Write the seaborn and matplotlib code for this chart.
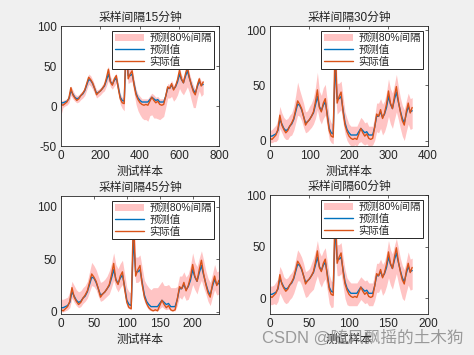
import numpy as np
import pandas as pd
import seaborn as sns
import matplotlib.pyplot as plt
from matplotlib.patches import Patch
from matplotlib.lines import Line2D

# shared test series (same record, resampled at each interval), 73 read points
actual = [2, 1, 3, 5, 10, 23, 14, 10, 7, 9,
          13, 16, 20, 28, 36, 33, 29, 22, 14, 17,
          19, 22, 26, 35, 46, 30, 26, 34, 38, 22,
          9, 4, 3, 92, 34, 40, 44, 26, 14, 8,
          4, 2, 1, 2, 1, 6, 11, 7, 4, 6,
          2, 1, 2, 12, 24, 22, 28, 20, 25, 33,
          45, 34, 29, 40, 49, 36, 26, 18, 14, 26,
          34, 25, 30]
predicted = [4, 4, 5, 6, 9, 19, 15, 11, 9, 10,
             13, 15, 19, 26, 33, 32, 28, 22, 16, 17,
             19, 22, 25, 32, 40, 31, 27, 32, 35, 24,
             11, 7, 6, 70, 38, 38, 40, 28, 16, 10,
             7, 5, 5, 5, 5, 8, 11, 9, 7, 8,
             5, 5, 5, 12, 22, 22, 26, 21, 24, 30,
             40, 33, 29, 37, 44, 35, 27, 20, 16, 24,
             31, 26, 27]

# 80% interval: distance below / above the prediction, per panel
below_15 = [15, 6, 5, 5, 5, 6, 6, 5, 5, 5,
            5, 5, 6, 6, 6, 7, 7, 6, 6, 5,
            5, 5, 6, 7, 8, 7, 6, 7, 7, 8,
            9, 10, 12, 20, 10, 8, 10, 12, 14, 16,
            18, 20, 22, 22, 24, 20, 22, 24, 22, 24,
            22, 20, 18, 14, 12, 12, 14, 15, 15, 16,
            18, 16, 15, 18, 20, 18, 20, 22, 18, 14,
            12, 14, 12]
above_15 = [3, 3, 3, 3, 4, 6, 5, 4, 4, 4,
            4, 4, 5, 6, 7, 6, 5, 5, 4, 4,
            4, 5, 5, 6, 10, 6, 5, 6, 6, 5,
            4, 4, 4, 10, 8, 8, 8, 6, 5, 5,
            5, 4, 4, 4, 4, 5, 5, 5, 4, 4,
            4, 4, 4, 5, 6, 5, 6, 5, 5, 6,
            8, 6, 6, 7, 8, 6, 6, 6, 5, 6,
            6, 5, 5]
below_30 = [6, 6, 6, 7, 8, 8, 8, 8, 8, 9,
            9, 10, 10, 10, 10, 10, 10, 10, 9, 9,
            9, 10, 10, 12, 12, 12, 12, 12, 12, 12,
            10, 9, 9, 25, 14, 12, 12, 12, 10, 10,
            10, 10, 10, 9, 10, 10, 12, 12, 11, 11,
            10, 10, 9, 12, 14, 15, 15, 16, 16, 16,
            18, 18, 18, 18, 18, 16, 16, 16, 16, 16,
            16, 16, 16]
above_30 = [5, 6, 7, 8, 10, 12, 10, 10, 10, 10,
            10, 10, 12, 15, 20, 14, 12, 12, 10, 10,
            12, 12, 14, 16, 22, 14, 14, 16, 16, 12,
            10, 9, 9, 30, 14, 14, 14, 12, 10, 10,
            8, 8, 8, 8, 8, 9, 10, 10, 9, 9,
            8, 8, 8, 10, 12, 12, 12, 12, 12, 14,
            16, 14, 14, 14, 16, 14, 12, 12, 12, 12,
            12, 12, 12]
below_45 = [4, 4, 4, 4, 5, 6, 6, 5, 5, 5,
            5, 5, 6, 7, 8, 8, 7, 7, 6, 6,
            6, 7, 8, 9, 10, 8, 8, 9, 9, 8,
            6, 4, 4, 20, 10, 10, 10, 8, 6, 5,
            5, 4, 4, 4, 4, 5, 6, 6, 5, 5,
            4, 4, 4, 6, 8, 10, 10, 10, 12, 12,
            14, 12, 12, 12, 14, 12, 10, 10, 10, 10,
            10, 10, 10]
above_45 = [8, 8, 8, 8, 10, 10, 10, 10, 10, 10,
            10, 10, 10, 12, 14, 12, 12, 12, 12, 12,
            12, 12, 14, 14, 16, 14, 14, 14, 14, 12,
            12, 12, 12, 40, 14, 14, 14, 14, 14, 16,
            16, 16, 18, 18, 18, 18, 18, 16, 18, 18,
            18, 18, 18, 12, 12, 12, 12, 12, 12, 14,
            16, 14, 14, 14, 14, 14, 12, 12, 12, 12,
            14, 12, 12]
below_60 = [10, 10, 10, 12, 12, 14, 14, 14, 14, 14,
            14, 14, 14, 15, 16, 15, 15, 15, 15, 15,
            14, 15, 16, 16, 18, 16, 16, 16, 16, 16,
            16, 16, 14, 25, 16, 16, 16, 16, 16, 16,
            14, 12, 12, 12, 12, 12, 12, 12, 12, 12,
            12, 12, 12, 14, 16, 16, 16, 18, 18, 18,
            20, 20, 20, 20, 20, 20, 20, 20, 18, 18,
            18, 18, 18]
above_60 = [8, 8, 8, 10, 10, 12, 12, 10, 10, 10,
            10, 10, 10, 12, 14, 12, 12, 12, 10, 10,
            10, 12, 14, 14, 16, 14, 14, 14, 14, 12,
            12, 10, 10, 20, 14, 14, 14, 12, 12, 10,
            10, 10, 10, 10, 10, 10, 10, 10, 10, 10,
            10, 10, 10, 12, 12, 12, 12, 12, 12, 14,
            16, 14, 14, 14, 14, 14, 12, 12, 12, 12,
            14, 12, 12]

titles = ["采样间隔15分钟", "采样间隔30分钟", "采样间隔45分钟", "采样间隔60分钟"]
sample_counts = [720, 360, 240, 180]
bands = [(below_15, above_15), (below_30, above_30), (below_45, above_45), (below_60, above_60)]
xticks = [[0, 200, 400, 600, 800], [0, 100, 200, 300, 400], [0, 50, 100, 150, 200], [0, 50, 100, 150, 200]]
xlims = [(0, 800), (0, 400), (0, 240), (0, 200)]
yticks = [[-50, 0, 50, 100], [0, 50, 100], [0, 50, 100], [0, 50, 100]]
ylims = [(-50, 100), (-5, 104), (-2, 110), (-15, 100)]

sns.set_style("white")
plt.rcParams['font.family'] = ['Liberation Sans', 'Noto Sans CJK SC', 'DejaVu Sans']
plt.rcParams['axes.unicode_minus'] = False

blue = "#0072BD"
orange = "#D95319"
pink = "#ffc4c4"

fig = plt.figure(figsize=(4.74, 3.55), dpi=100, facecolor="#f0f0f0")
positions = [[0.1287, 0.5887, 0.3333, 0.3380],
             [0.5696, 0.5887, 0.3333, 0.3380],
             [0.1287, 0.1155, 0.3333, 0.3324],
             [0.5696, 0.1155, 0.3333, 0.3352]]

for k in range(4):
    ax = fig.add_axes(positions[k])
    ax.set_facecolor("white")
    n = sample_counts[k]
    below, above = bands[k]
    df = pd.DataFrame({
        "x": np.linspace(0, n, len(actual)),
        "actual": actual,
        "pred": predicted,
    })
    lo = df["pred"] - np.array(below)
    hi = df["pred"] + np.array(above)
    ax.fill_between(df["x"], lo, hi, color=pink, linewidth=0)
    sns.lineplot(data=df, x="x", y="pred", ax=ax, color=blue, linewidth=1.0)
    sns.lineplot(data=df, x="x", y="actual", ax=ax, color=orange, linewidth=1.0)

    ax.set_xlim(xlims[k])
    ax.set_ylim(ylims[k])
    ax.set_xticks(xticks[k])
    ax.set_yticks(yticks[k])
    ax.tick_params(direction="in", length=2.5, width=0.5, labelsize=8.5,
                   top=True, right=True, colors="#262626", pad=3)
    for s in ax.spines.values():
        s.set_color("#262626")
        s.set_linewidth(0.6)
    ax.set_title(titles[k], fontsize=8.5, pad=4, color="#222222")
    ax.set_xlabel("测试样本", fontsize=8.5, labelpad=3, color="#222222")
    ax.set_ylabel("")

    handles = [Patch(facecolor=pink, edgecolor="none"),
               Line2D([], [], color=blue, linewidth=1),
               Line2D([], [], color=orange, linewidth=1)]
    leg = ax.legend(handles, ["预测80%间隔", "预测值", "实际值"], loc="upper right",
                    fontsize=7.5, frameon=True, fancybox=False, framealpha=1,
                    edgecolor="#262626", borderpad=0.25, labelspacing=0.15,
                    handlelength=2.8, handletextpad=0.5, borderaxespad=0.45)
    leg.get_frame().set_linewidth(0.7)

fig.text(0.765, 0.048, "CSDN @随风飘摇的土木狗", fontsize=12, color="#8a8a8a",
         alpha=0.85, ha="center", va="center")

fig.savefig("out.png", dpi=100, facecolor=fig.get_facecolor())
